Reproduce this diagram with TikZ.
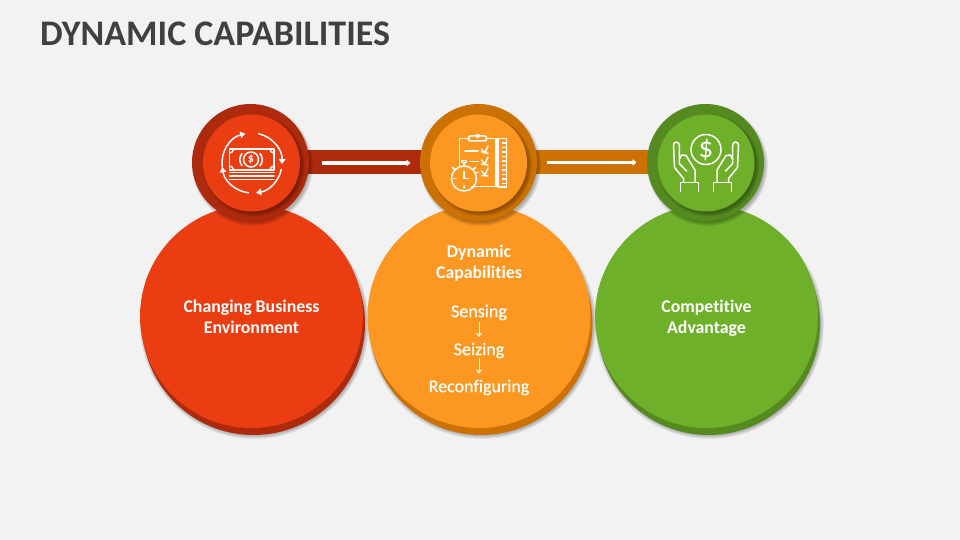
\documentclass[tikz,border=0pt]{standalone}
\usepackage{fontspec}
\setmainfont[Ligatures=NoCommon]{Carlito}
\newfontfamily\stepfont[Ligatures=NoCommon,FakeBold=0.6]{Carlito}
\usetikzlibrary{arrows.meta,backgrounds}
\definecolor{PageBg}{RGB}{242,242,242}
\definecolor{TitleGrey}{RGB}{64,64,64}
\definecolor{M1}{RGB}{235,61,18}
\definecolor{M1dark}{RGB}{174,42,13}
\definecolor{M2}{RGB}{252,151,34}
\definecolor{M2dark}{RGB}{204,114,5}
\definecolor{M3}{RGB}{111,176,42}
\definecolor{M3dark}{RGB}{84,138,32}
\tikzset{
  bigdisc/.style={circle, minimum size=223pt, inner sep=0pt},
  ringdisc/.style={circle, minimum size=117pt, inner sep=0pt},
  facedisc/.style={circle, minimum size=97pt, inner sep=0pt},
  headtext/.style={text=white, font=\fontsize{17.8}{21}\selectfont\bfseries, align=center},
  steptext/.style={text=white, font=\stepfont\fontsize{18}{21}\selectfont},
  flowarrow/.style={white, line width=3.4pt, -{Triangle[length=4pt,width=6.5pt]}},
  steparrow/.style={white, line width=1pt, -{Straight Barb[length=3pt,width=5pt]}},
  iconline/.style={white, line width=1.5pt, line cap=round, line join=round},
  turnarrow/.style={-{Triangle[length=5pt,width=6.5pt]}},
}
% soft blurred edge under a disc: centre, offset, radius
\newcommand{\softshade}[3]{
  \foreach \k in {0,1,2,3,4,5}
    \fill[black, opacity=0.05] (#1) ++(#2) circle ({#3+\k*0.7});
}
\begin{document}
\begin{tikzpicture}[x=1pt,y=1pt]
  \useasboundingbox (0,0) rectangle (960,-540);

  \node[anchor=west, text=TitleGrey, inner sep=0pt, font=\fontsize{36}{36}\selectfont\bfseries] (title) at (40,-34) {DYNAMIC CAPABILITIES};

  % big discs with their dark copy behind
  \softshade{253.5,-323.5}{1,-1}{111}
  \softshade{481,-323.5}{1,-1}{111}
  \softshade{708.5,-323.5}{1,-1}{111}
  \node[bigdisc, fill=M1dark] (redback) at (253.5,-323.5) {};
  \node[bigdisc, fill=M2dark] (orangeback) at (481,-323.5) {};
  \node[bigdisc, fill=M3dark] (greenback) at (708.5,-323.5) {};
  \node[bigdisc, fill=M1] (redbig) at (251.5,-316.5) {};
  \node[bigdisc, fill=M2] (orangebig) at (479,-316.5) {};
  \node[bigdisc, fill=M3] (greenbig) at (706.5,-316.5) {};

  % top rings
  \softshade{250.5,-162.5}{2,-3}{57}
  \softshade{478.5,-162.5}{2,-3}{57}
  \softshade{705.5,-162.5}{2,-3}{57}
  \node[ringdisc, fill=M1dark] (redring) at (250.5,-162.5) {};
  \node[ringdisc, fill=M2dark] (orangering) at (478.5,-162.5) {};
  \node[ringdisc, fill=M3dark] (greenring) at (705.5,-162.5) {};
  \softshade{251.5,-163}{2.5,-2.5}{47.5}
  \softshade{478.5,-163}{2.5,-2.5}{47.5}
  \softshade{706,-163}{2.5,-2.5}{47.5}
  \node[facedisc, fill=M1] (redface) at (251.5,-163) {};
  \node[facedisc, fill=M2] (orangeface) at (478.5,-163) {};
  \node[facedisc, fill=M3] (greenface) at (706,-163) {};

  \begin{scope}[on background layer]
    \fill[PageBg] (0,0) rectangle (960,-540);
    \draw[M1dark, line width=24pt, shorten >=-4pt, shorten <=-4pt] (redring) -- (orangering);
    \draw[M2dark, line width=24pt, shorten >=-4pt, shorten <=-4pt] (orangering) -- (greenring);
  \end{scope}

  % white arrows on the bars
  \coordinate (flowa) at (322,-163);
  \coordinate (flowb) at (410.5,-163);
  \coordinate (flowc) at (547,-162.5);
  \coordinate (flowd) at (636.5,-162.5);
  \draw[flowarrow] (flowa) -- (flowb);
  \draw[flowarrow] (flowc) -- (flowd);

  % texts
  \node[headtext] (redtext) at (251.5,-317) {Changing Business\\Environment};
  \node[headtext] (orangetext) at (479,-263.5) {Dynamic\\Capabilities};
  \node[headtext] (greentext) at (706.5,-318) {Competitive\\Advantage};
  \node[steptext] (sensing) at (479,-312.5) {Sensing};
  \node[steptext] (seizing) at (479,-350.5) {Seizing};
  \node[steptext] (reconf) at (479,-387.5) {Reconfiguring};
  \coordinate (stepa) at (479,-322);
  \coordinate (stepb) at (479,-337);
  \coordinate (stepc) at (479,-358);
  \coordinate (stepd) at (479,-373.5);
  \draw[steparrow] (stepa) -- (stepb);
  \draw[steparrow] (stepc) -- (stepd);

  % money icon
  \begin{scope}[iconline]
    \draw[turnarrow] (252,-163) ++(188:30) arc (188:103:30);
    \draw[turnarrow] (252,-163) ++(77:30) arc (77:-2:30);
    \draw[turnarrow] (252,-163) ++(-12:30) arc (-12:-82:30);
    \draw[turnarrow] (252,-163) ++(-97:30) arc (-97:-172:30);
    \draw (229.5,-149) rectangle (274,-170);
    \draw (251,-159.5) circle (7.5);
    \node[text=white, font=\fontsize{12}{12}\selectfont\bfseries, inner sep=0pt] (dollara) at (251,-159.5) {\$};
    \draw (242,-153.5) arc (140:220:9.5);
    \draw (260,-153.5) arc (40:-40:9.5);
    \draw (229.5,-153) arc (-90:0:4) (270,-149) arc (180:270:4);
    \draw (229.5,-166) arc (90:0:4) (270,-170) arc (180:90:4);
    \draw (229.5,-172.5) -- (274,-172.5);
    \draw (229.5,-176) -- (274,-176);
    \draw (229.5,-179.5) -- (274,-179.5);
  \end{scope}

  % clipboard icon
  \begin{scope}[iconline]
    \draw (468,-138.5) -- (459.5,-138.5) -- (459.5,-166);
    \draw (487,-138.5) -- (496,-138.5) -- (496,-186.5) -- (472,-186.5);
    \draw[rounded corners=2pt] (468.5,-141) rectangle (486.5,-136);
    \draw (477.5,-136) circle (1.6);
    \draw (498,-138.5) rectangle (506.5,-187);
    \foreach \t in {143,147.5,152,156.5,161,165.5,170,174.5,179,183.5}
      \draw (506,-\t) -- (502.5,-\t);
    \draw (465,-151) -- (478,-151);
    \draw (470,-161.5) -- (478,-161.5);
    \draw (476,-172.5) -- (478,-172.5);
    \draw (481.5,-149) -- (485,-153) -- (488,-146);
    \draw (481.5,-160) -- (485,-164) -- (488,-157);
    \draw (481.5,-171) -- (485,-175) -- (488,-168);
    \draw (481.5,-151.5) -- (488,-153.5) (481.5,-164) -- (488,-165) (481.5,-175.5) -- (488,-176);
    \draw (464,-178.5) circle (12.5);
    \draw (464,-166) -- (464,-163.5);
    \draw (462,-162.5) rectangle (466,-160.5);
    \draw (452.5,-167.5) -- (454.5,-169.5) (475.5,-167.5) -- (473.5,-169.5);
    \draw (464,-171.5) -- (464,-178.5) -- (468.5,-178.5);
    \draw (464,-186) -- (464,-188);
    \draw (454,-178.5) -- (456,-178.5);
  \end{scope}

  % hands icon
  \begin{scope}[iconline]
    \draw (706,-149.5) circle (15);
    \node[text=white, font=\fontsize{29}{29}\selectfont, inner sep=0pt] (dollarb) at (706,-149.5) {\$};
    \foreach \s in {1,-1}{
      \begin{scope}[xshift=706pt, xscale=\s, xshift=-706pt]
        \draw (683.5,-182.5) -- (683.5,-178.5) -- (674.5,-167.5) -- (673.5,-145) arc (180:0:2.9) -- (679.3,-163.5) -- (686.5,-171);
        \draw (680,-158.5) -- (681.5,-155) -- (686,-155.5) -- (695,-170) -- (695,-182.5);
        \draw (680.5,-191.5) -- (680.5,-182.5) -- (698.5,-182.5) -- (698.5,-191.5);
      \end{scope}
    }
  \end{scope}
\end{tikzpicture}
\end{document}
